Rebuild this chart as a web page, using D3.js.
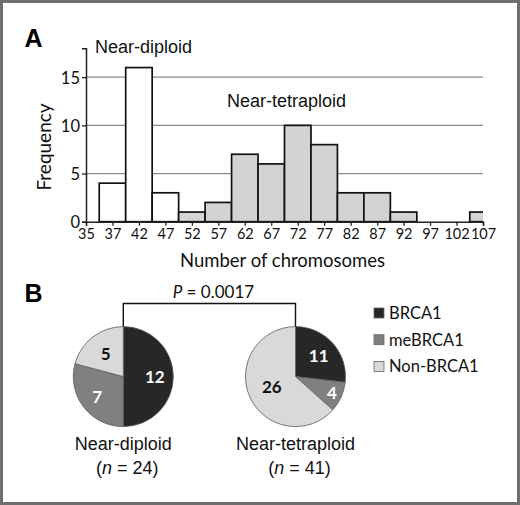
<!DOCTYPE html>
<html>
<head>
<meta charset="utf-8">
<script src="https://cdn.jsdelivr.net/npm/d3@7"></script>
<style>
  body { margin: 0; background: #fff; }
  svg { display: block; }
</style>
</head>
<body>
<svg id="fig" width="520" height="505"></svg>
<script>
// histogram: chromosome number bins (Excel-style category labels)
var binLabels = ["35", "37", "42", "47", "52", "57", "62", "67", "72", "77", "82", "87", "92", "97", "102", "107"];
var binCounts = [0, 4, 16, 3, 1, 2, 7, 6, 10, 8, 3, 3, 1, 0, 0, 1];
var binGroup = ["d", "d", "d", "d", "t", "t", "t", "t", "t", "t", "t", "t", "t", "t", "t", "t"];
var yTicks = [0, 5, 10, 15];

// pies: BRCA1 status per ploidy group
var pieNames = ["Near-diploid", "Near-tetraploid"];
var pieN = [24, 41];
var statusNames = ["BRCA1", "meBRCA1", "Non-BRCA1"];
var diploidCounts = [12, 7, 5];
var tetraploidCounts = [11, 4, 26];
var pValue = "0.0017";

var calibri = "Lato, 'Open Sans', sans-serif";
var arial = "'Liberation Sans', Arial, sans-serif";

var svg = d3.select("#fig");

// frame
svg.append("rect").attr("x", 1.5).attr("y", 1.5).attr("width", 517).attr("height", 502)
    .attr("fill", "#fff").attr("stroke", "#6f6f6f").attr("stroke-width", 3);

// ---------- panel A ----------
var x = d3.scalePoint().domain(binLabels).range([86, 483]);
var bw = x.step();
var y = d3.scaleLinear().domain([0, 18]).range([221.7, 48.3]);

svg.append("defs").append("clipPath").attr("id", "plotclip")
    .append("rect").attr("x", 86).attr("y", 0).attr("width", 483 - 86).attr("height", 240);

// gridlines
svg.append("g").selectAll("line").data(yTicks.slice(1)).enter().append("line")
    .attr("x1", 86).attr("x2", 483)
    .attr("y1", function (d) { return y(d); }).attr("y2", function (d) { return y(d); })
    .attr("stroke", "#8a8a8a").attr("stroke-width", 1.2);

// bars
svg.append("g").attr("clip-path", "url(#plotclip)")
    .selectAll("rect").data(binLabels).enter().append("rect")
    .filter(function (d, i) { return binCounts[i] > 0; })
    .attr("x", function (d) { return x(d) - bw / 2; })
    .attr("width", bw)
    .attr("y", function (d) { return y(binCounts[binLabels.indexOf(d)]); })
    .attr("height", function (d) { return y(0) - y(binCounts[binLabels.indexOf(d)]); })
    .attr("fill", function (d) { return binGroup[binLabels.indexOf(d)] == "d" ? "#ffffff" : "#d3d3d3"; })
    .attr("stroke", "#111").attr("stroke-width", 1.7);

// axes
var xAxis = svg.append("g").attr("transform", "translate(0," + y(0) + ")")
    .call(d3.axisBottom(x).tickSizeOuter(0).tickSize(4).tickPadding(3));
var yAxis = svg.append("g").attr("transform", "translate(86,0)")
    .call(d3.axisLeft(y).tickValues(yTicks).tickSizeOuter(0).tickSize(4).tickPadding(2));
[xAxis, yAxis].forEach(function (a) {
    a.select(".domain").attr("stroke", "#222").attr("stroke-width", 1.5);
    a.selectAll(".tick line").attr("stroke", "#222").attr("stroke-width", 1.3);
    a.selectAll("text").attr("fill", "#111").style("font-family", calibri);
});
xAxis.selectAll("text").style("font-size", "14.5px");
yAxis.selectAll("text").style("font-size", "16.5px").attr("dy", "0.36em");

svg.append("text").attr("x", 180).attr("y", 267).text("Number of chromosomes")
    .style("font-family", calibri).style("font-size", "18.5px").attr("fill", "#111");
svg.append("text").attr("transform", "translate(51,147) rotate(-90)")
    .attr("text-anchor", "middle").text("Frequency")
    .style("font-family", calibri).style("font-size", "19px").attr("fill", "#111");

svg.append("text").attr("x", 95).attr("y", 52.5).text("Near-diploid")
    .style("font-family", arial).style("font-size", "18px").attr("fill", "#111");
svg.append("text").attr("x", 227).attr("y", 107).text("Near-tetraploid")
    .style("font-family", arial).style("font-size", "18px").attr("fill", "#111");

svg.append("text").attr("x", 24.5).attr("y", 46.7).text("A")
    .style("font-family", arial).style("font-weight", "bold").style("font-size", "25px");

// ---------- panel B ----------
svg.append("text").attr("x", 24.5).attr("y", 301.7).text("B")
    .style("font-family", arial).style("font-weight", "bold").style("font-size", "25px");

var statusColor = d3.scaleOrdinal().domain(statusNames).range(["#272727", "#808080", "#d9d9d9"]);
var labelColor = ["#fff", "#fff", "#111"];
var pieCenters = [[123.3, 376.6], [295.5, 376.6]];
var radius = 50;
var pie = d3.pie().sort(null).value(function (d) { return d; });
var arc = d3.arc().innerRadius(0).outerRadius(radius);
// label offsets tuned per pie (fraction of radius)
var labelRadius = [[0.63, 0.66, 0.58], [0.62, 0.8, 0.52]];

[diploidCounts, tetraploidCounts].forEach(function (counts, p) {
    var g = svg.append("g").attr("transform", "translate(" + pieCenters[p][0] + "," + pieCenters[p][1] + ")");
    var arcs = pie(counts);
    g.selectAll("path").data(arcs).enter().append("path")
        .attr("d", arc)
        .attr("fill", function (d, i) { return statusColor(statusNames[i]); })
        .attr("stroke", "#5a5a5a").attr("stroke-width", 0.8);
    g.selectAll("text").data(arcs).enter().append("text")
        .attr("transform", function (d, i) {
            var r = radius * labelRadius[p][i];
            var c = d3.arc().innerRadius(r).outerRadius(r).centroid(d);
            return "translate(" + c[0] + "," + c[1] + ")";
        })
        .attr("text-anchor", "middle").attr("dy", "0.36em")
        .attr("fill", function (d, i) { return labelColor[i]; })
        .style("font-family", calibri).style("font-weight", "bold").style("font-size", "17px")
        .text(function (d) { return d.data; });

    svg.append("text").attr("x", pieCenters[p][0]).attr("y", 450).attr("text-anchor", "middle")
        .text(pieNames[p]).style("font-family", arial).style("font-size", "18px").attr("fill", "#111");
    var nt = svg.append("text").attr("x", pieCenters[p][0] + 4).attr("y", 474).attr("text-anchor", "middle")
        .style("font-family", arial).style("font-size", "18px").attr("fill", "#111");
    nt.append("tspan").text("(");
    nt.append("tspan").style("font-style", "italic").text("n");
    nt.append("tspan").text(" = " + pieN[p] + ")");
});

// significance bracket
var bracketY = 303.5;
svg.append("path")
    .attr("d", "M" + pieCenters[0][0] + "," + (pieCenters[0][1] - radius) + "V" + bracketY +
        "H" + pieCenters[1][0] + "V" + (pieCenters[1][1] - radius))
    .attr("fill", "none").attr("stroke", "#111").attr("stroke-width", 1.4);
var pt = svg.append("text").attr("x", (pieCenters[0][0] + pieCenters[1][0]) / 2 + 4).attr("y", 298)
    .attr("text-anchor", "middle").style("font-family", calibri).style("font-size", "17px").attr("fill", "#111");
pt.append("tspan").style("font-style", "italic").text("P");
pt.append("tspan").text(" = " + pValue);

// legend
var legend = svg.append("g").selectAll("g").data(statusNames).enter().append("g")
    .attr("transform", function (d, i) { return "translate(374," + (308 + i * 26.7) + ")"; });
legend.append("rect").attr("width", 10).attr("height", 10)
    .attr("fill", function (d) { return statusColor(d); })
    .attr("stroke", "#666").attr("stroke-width", 0.8);
legend.append("text").attr("x", 15).attr("y", 5).attr("dy", "0.36em")
    .text(function (d) { return d; })
    .style("font-family", calibri).style("font-size", "16.5px").attr("fill", "#111");
</script>
</body>
</html>
